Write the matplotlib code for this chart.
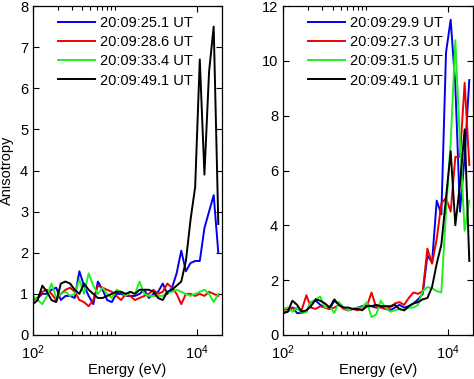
import matplotlib
matplotlib.use("Agg")
import matplotlib.pyplot as plt
from matplotlib.ticker import FixedLocator, NullFormatter

plt.rcParams['font.family'] = ['Liberation Sans', 'DejaVu Sans']
plt.rcParams['mathtext.default'] = 'regular'

energy = [100, 114, 130, 148, 168, 192, 218, 249, 283, 322, 367, 418, 476, 542,
          617, 703, 800, 911, 1037, 1181, 1345, 1531, 1743, 1985, 2260, 2573,
          2930, 3336, 3798, 4325, 4924, 5607, 6384, 7269, 8277, 9425, 10731,
          12219, 13913, 15842, 18038]

left_labels = ['20:09:25.1 UT', '20:09:28.6 UT', '20:09:33.4 UT', '20:09:49.1 UT']
left_blue = [0.85, 0.9, 1.0, 1.0, 1.1, 1.15, 0.85, 0.95, 0.95, 0.9, 1.55, 1.2, 0.95, 0.75,
             1.3, 1.1, 0.85, 0.8, 1.0, 1.0, 0.95, 0.95, 0.95, 1.0, 1.1, 0.9, 1.0, 1.05,
             1.25, 1.0, 1.15, 1.5, 2.05, 1.55, 1.75, 1.8, 1.8, 2.6, 3.0, 3.4, 2.0]
left_red = [0.85, 0.9, 1.05, 1.1, 1.0, 0.85, 1.0, 1.1, 1.15, 1.05, 0.85, 0.8, 0.7, 0.85,
            1.2, 1.15, 1.1, 1.05, 0.95, 0.85, 1.0, 0.95, 0.85, 0.9, 0.95, 1.0, 1.1, 1.0,
            1.05, 1.25, 1.15, 1.0, 0.75, 1.0, 1.0, 0.95, 1.0, 0.95, 1.05, 1.0, 0.95]
left_green = [0.95, 0.85, 0.75, 0.95, 1.25, 0.9, 1.0, 1.05, 0.95, 1.0, 1.35, 1.0, 1.5, 1.2,
              1.0, 1.15, 1.0, 0.9, 1.1, 1.05, 0.95, 1.05, 1.0, 1.3, 1.0, 0.95, 0.95, 0.95,
              0.95, 1.05, 1.05, 1.1, 1.05, 1.0, 0.95, 1.0, 1.05, 1.1, 1.0, 0.8, 1.0]
left_black = [0.75, 0.85, 1.2, 1.05, 0.85, 0.8, 1.25, 1.3, 1.25, 1.1, 1.0, 1.25, 1.1, 1.0,
              0.9, 0.9, 0.95, 1.0, 1.05, 1.05, 1.0, 1.05, 1.0, 1.1, 1.1, 1.1, 1.05, 0.9,
              0.85, 1.05, 1.1, 1.2, 1.3, 1.8, 2.8, 3.6, 6.7, 3.9, 6.4, 7.5, 2.7]

right_labels = ['20:09:29.9 UT', '20:09:27.3 UT', '20:09:31.5 UT', '20:09:49.1 UT']
right_blue = [0.8, 0.85, 1.0, 0.8, 0.8, 0.85, 1.2, 1.25, 1.1, 1.0, 0.95, 1.25, 1.1, 1.0,
              0.9, 0.95, 1.0, 1.05, 1.1, 1.05, 1.0, 1.05, 0.95, 0.9, 1.0, 1.1, 1.0, 1.05,
              1.15, 1.3, 1.5, 2.9, 2.65, 4.9, 4.4, 10.3, 11.5, 9.1, 4.5, 6.5, 9.3]
right_red = [0.9, 0.95, 1.0, 0.95, 0.9, 1.45, 1.0, 0.95, 1.05, 1.0, 0.95, 1.0, 1.1, 0.95,
             0.9, 0.95, 0.9, 1.0, 1.05, 1.55, 1.0, 1.0, 0.95, 1.0, 1.15, 1.2, 1.1, 1.35,
             1.55, 1.5, 1.6, 3.15, 2.6, 3.5, 4.8, 5.0, 4.5, 6.5, 6.5, 9.2, 6.2]
right_green = [0.95, 1.0, 0.85, 1.0, 0.8, 0.85, 1.2, 1.3, 1.4, 1.0, 1.05, 0.8, 1.2, 1.0,
               0.9, 0.95, 1.0, 1.0, 1.2, 0.65, 0.75, 1.25, 1.0, 0.85, 0.9, 0.95, 0.9, 1.0,
               1.0, 1.1, 1.6, 1.75, 1.7, 1.6, 1.55, 4.5, 7.0, 10.75, 7.0, 3.8, 4.9]
right_black = [0.8, 0.85, 1.25, 1.1, 0.85, 0.9, 1.05, 1.3, 1.25, 1.15, 1.0, 1.3, 1.1, 1.0,
               1.0, 0.95, 0.95, 0.9, 1.05, 1.05, 1.1, 1.05, 1.05, 1.05, 1.1, 0.95, 0.9, 1.05,
               1.15, 1.2, 1.3, 1.35, 1.75, 2.6, 3.3, 5.0, 6.7, 4.0, 5.5, 7.5, 2.7]

colors = ['#0000ee', '#ee0000', '#22ee22', '#000000']

fig = plt.figure(figsize=(4.74, 3.79), dpi=100)
axL = fig.add_axes([33/474, 1-335/379, 189/474, 329/379])
axR = fig.add_axes([283/474, 1-335/379, 190/474, 329/379])

minor_ticks = [200, 300, 400, 500, 600, 700, 800, 900, 1000]

def style(ax, ymax, ystep):
    ax.set_xscale('log')
    ax.set_xlim(100, 2e4)
    ax.set_ylim(0, ymax)
    ax.xaxis.set_major_locator(FixedLocator([100, 10000]))
    ax.xaxis.set_minor_locator(FixedLocator(minor_ticks))
    ax.xaxis.set_minor_formatter(NullFormatter())
    ax.set_xticklabels(['$10^2$', '$10^4$'])
    ax.set_yticks(range(0, ymax + 1, ystep))
    ax.tick_params(which='both', direction='in', top=True, right=True, labelsize=10.5,
                   width=0.8)
    ax.tick_params(which='major', length=4)
    ax.tick_params(which='minor', length=3)
    ax.tick_params(axis='x', which='major', pad=6)
    ax.set_xlabel('Energy (eV)', fontsize=10.5, labelpad=1)
    for s in ax.spines.values():
        s.set_linewidth(0.9)

for ys, lab, c in zip([left_blue, left_red, left_green, left_black], left_labels, colors):
    axL.plot(energy, ys, color=c, lw=1.4, label=lab)
for ys, lab, c in zip([right_blue, right_red, right_green, right_black], right_labels, colors):
    axR.plot(energy, ys, color=c, lw=1.4, label=lab)

style(axL, 8, 1)
style(axR, 12, 2)
axL.set_ylabel('Anisotropy', fontsize=10.5, labelpad=4)

for ax in (axL, axR):
    ax.legend(loc='upper left', frameon=False, fontsize=10.5, handlelength=2.5,
              handletextpad=0.35, labelspacing=0.35, borderaxespad=0.3,
              bbox_to_anchor=(0.08, 1.0))

fig.savefig('out.png', dpi=100)
